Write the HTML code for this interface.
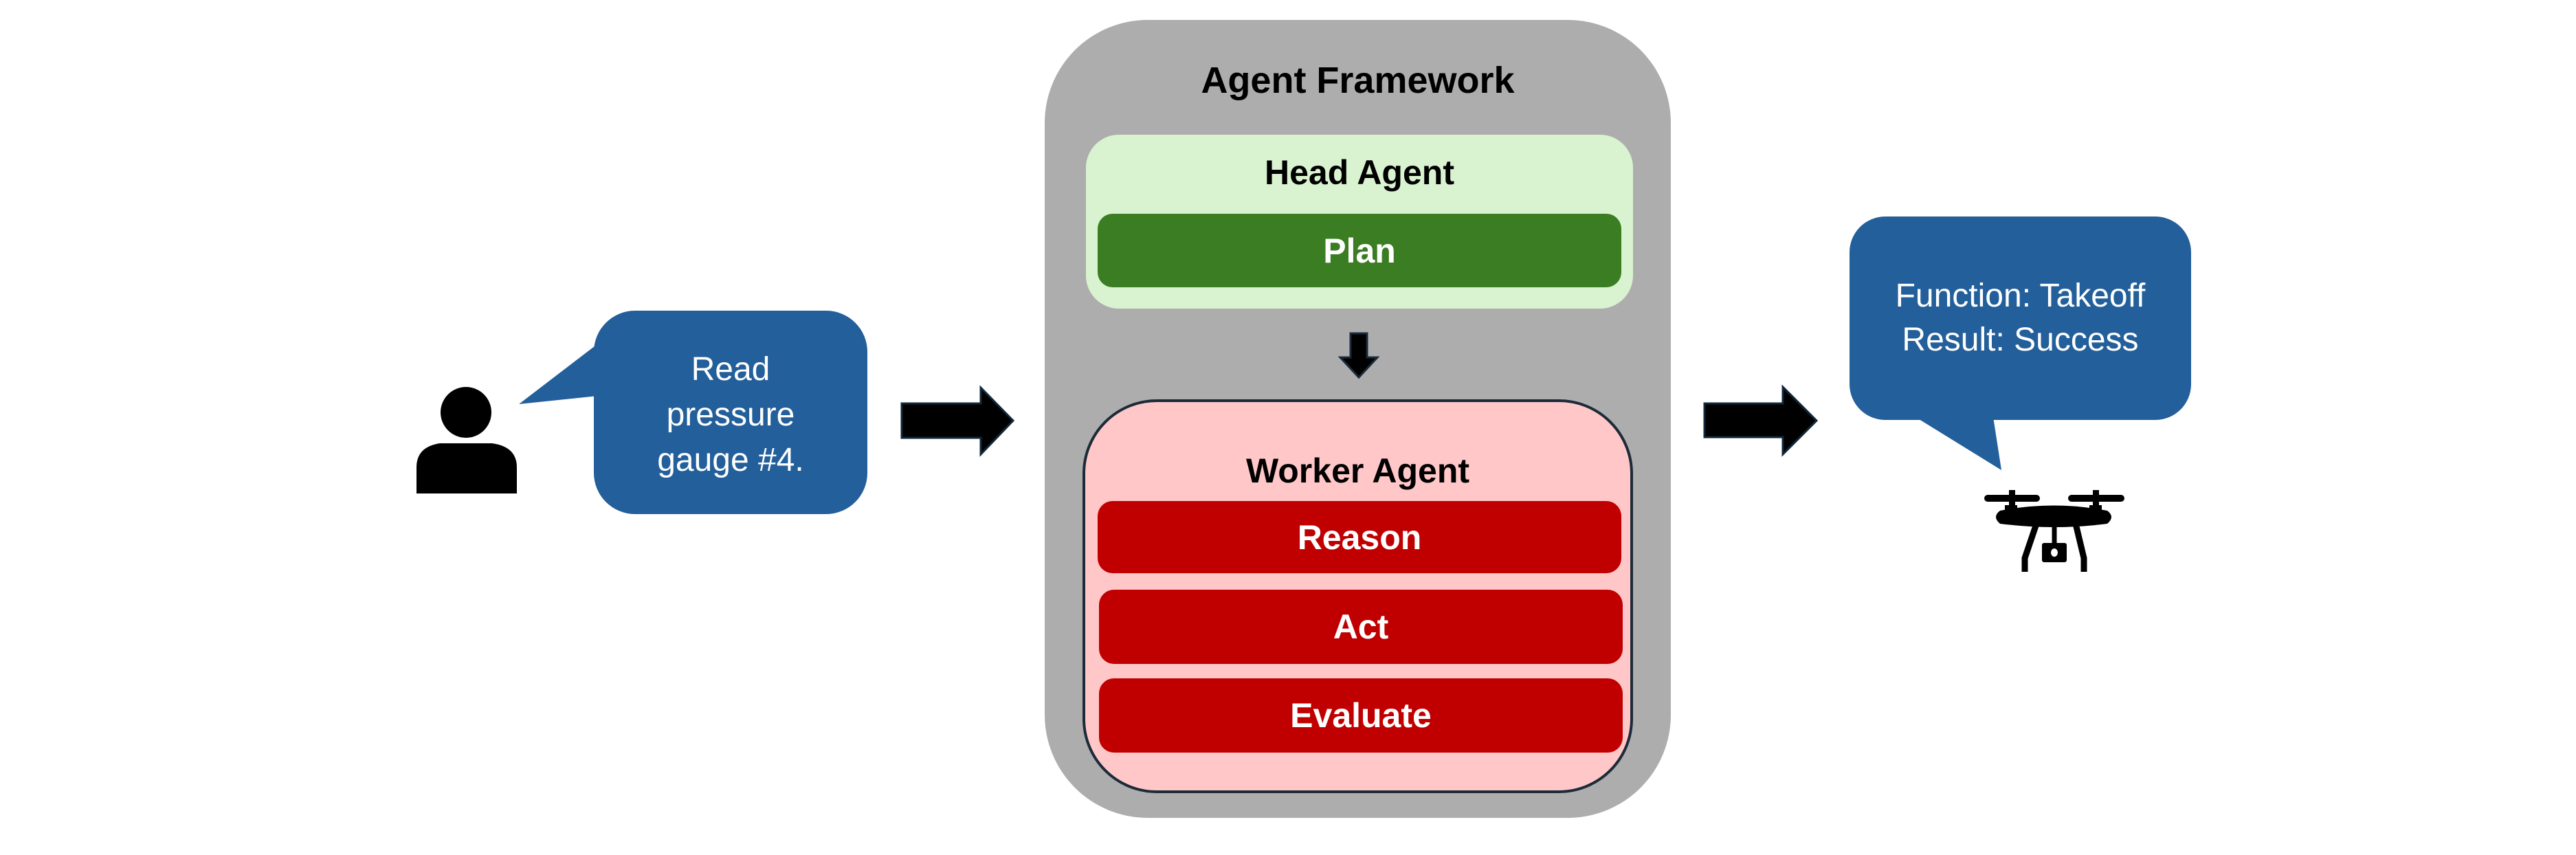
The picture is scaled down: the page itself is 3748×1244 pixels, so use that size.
<!DOCTYPE html>
<html><head><meta charset="utf-8"><style>
html,body{margin:0;padding:0;background:#fff}
body{width:3748px;height:1244px;position:relative;overflow:hidden;font-family:"Liberation Sans",sans-serif}
.a{position:absolute;box-sizing:border-box}
.c{display:flex;align-items:center;justify-content:center;text-align:center}
.b{font-weight:bold}
</style></head><body>
<div class="a" style="left:1520px;top:29px;width:911px;height:1161px;background:#adadad;border-radius:150px"></div>
<div class="a c b" style="left:1520px;top:87px;width:911px;height:60px;font-size:54px;color:#000">Agent Framework</div>
<div class="a" style="left:1580px;top:196px;width:796px;height:253px;background:#d9f2d0;border-radius:48px"></div>
<div class="a c b" style="left:1580px;top:222px;width:796px;height:58px;font-size:50px">Head Agent</div>
<div class="a c b" style="left:1597px;top:311px;width:762px;height:107px;background:#3b7d23;border-radius:22px;color:#fff;font-size:50px">Plan</div>
<svg class="a" style="left:0;top:0" width="3748" height="1244">
<polygon points="1965,485 1989,485 1989,520 2004,520 1977,549 1950,520 1965,520" fill="#000" stroke="#1a2a3a" stroke-width="3"/>
<polygon points="1312,587 1427,587 1427,564 1474,612 1427,661 1427,637 1312,637" fill="#000" stroke="#10283a" stroke-width="3"/>
<polygon points="2480,587 2594,587 2594,563 2643,612 2594,661 2594,636 2480,636" fill="#000" stroke="#10283a" stroke-width="3"/>
<polygon points="870,500 755,588 870,576" fill="#235f9a"/>
<polygon points="2776,600 2912,684 2899,600" fill="#235f9a"/>
<ellipse cx="678" cy="600" rx="37" ry="37" fill="#000"/>
<path d="M606,718 L606,680 Q606,650 640,645 L716,645 Q752,650 752,680 L752,718 Z" fill="#000"/>
<g fill="#000" stroke="#000">
<line x1="2892" y1="725" x2="2963" y2="725" stroke-width="10" stroke-linecap="round"/>
<line x1="3014" y1="725" x2="3086" y2="725" stroke-width="10" stroke-linecap="round"/>
<rect x="2923" y="713" width="9" height="30" stroke="none"/>
<rect x="3045" y="713" width="9" height="30" stroke="none"/>
<rect x="2917" y="735" width="18" height="14" stroke="none"/>
<rect x="3040" y="735" width="18" height="14" stroke="none"/>
<path d="M2910,743 Q2988,728 3066,743 Q3078,752 3066,762 Q2988,772 2910,762 Q2898,752 2910,743Z" stroke="none"/>
<path d="M2963,762 L2946,812 L2946,832" stroke-width="9" fill="none"/>
<path d="M3020,762 L3032,812 L3032,832" stroke-width="9" fill="none"/>
<line x1="2989" y1="762" x2="2989" y2="792" stroke-width="7"/>
<rect x="2971" y="790" width="36" height="28" rx="3" stroke="none"/>
</g>
<ellipse cx="2989" cy="804" rx="5" ry="6" fill="#fff"/>
</svg>
<div class="a c" style="left:864px;top:452px;width:398px;height:296px;background:#235f9a;border-radius:60px;color:#fff;font-size:48px;line-height:66px;padding-top:8px">Read<br>pressure<br>gauge #4.</div>
<div class="a c" style="left:2691px;top:315px;width:497px;height:296px;background:#235f9a;border-radius:52px;color:#fff;font-size:48px;line-height:64px">Function: Takeoff<br>Result: Success</div>
<div class="a" style="left:1575px;top:581px;width:801px;height:573px;background:#ffc7c7;border:4px solid #1c2b38;border-radius:108px"></div>
<div class="a c b" style="left:1575px;top:656px;width:801px;height:58px;font-size:50px">Worker Agent</div>
<div class="a c b" style="left:1597px;top:729px;width:762px;height:105px;background:#c00000;border-radius:22px;color:#fff;font-size:50px">Reason</div>
<div class="a c b" style="left:1599px;top:858px;width:762px;height:108px;background:#c00000;border-radius:22px;color:#fff;font-size:50px">Act</div>
<div class="a c b" style="left:1599px;top:987px;width:762px;height:108px;background:#c00000;border-radius:22px;color:#fff;font-size:50px">Evaluate</div>
</body></html>
